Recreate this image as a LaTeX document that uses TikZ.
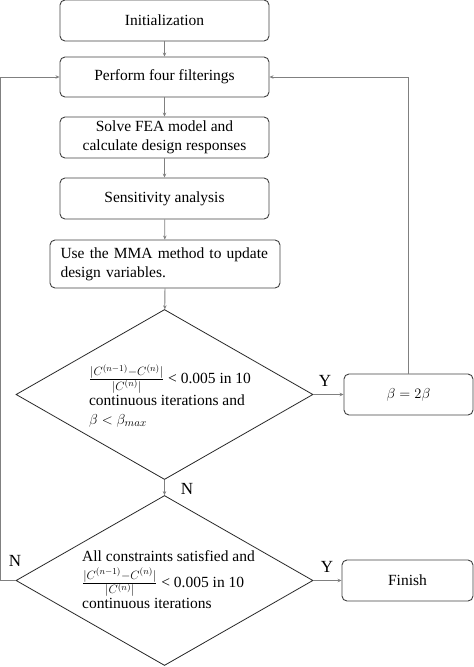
\documentclass[tikz,border=0pt]{standalone}
\usepackage{fontspec}
\setmainfont{Liberation Serif}
\usetikzlibrary{arrows.meta,shapes.geometric}
\newcommand{\cfrac}{{\fontsize{18.5}{20}\selectfont\ensuremath{\frac{|C^{(n-1)}-C^{(n)}|}{|C^{(n)}|}}}}
\begin{document}
\begin{tikzpicture}[x=1pt,y=-1pt,
  box/.style={draw=black!75,line width=0.9pt,rounded corners=5pt,inner sep=0pt,font=\fontsize{15.5}{19}\selectfont},
  dia/.style={draw=black!85,line width=0.8pt,shape=diamond,inner sep=0pt,minimum width=297pt,minimum height=170pt},
  txt/.style={font=\fontsize{15.5}{19}\selectfont,align=left,inner sep=0pt},
  conn/.style={draw=black!50,line width=0.8pt,-{Stealth[length=4pt,width=3.5pt]}},
  lbl/.style={font=\fontsize{17}{20}\selectfont,inner sep=0pt}]
\useasboundingbox (0,0) rectangle (474,667);
\node[box,minimum width=209pt,minimum height=41pt] (init) at (164.5,20.5) {Initialization};
\node[box,minimum width=209pt,minimum height=40pt] (perf) at (164.5,77) {Perform four filterings};
\node[box,minimum width=209pt,minimum height=41pt,align=center] (solve) at (164.5,137.5) {Solve FEA model and\\calculate design responses};
\node[box,minimum width=209pt,minimum height=41pt] (sens) at (164.5,198.5) {Sensitivity analysis};
\node[box,minimum width=230pt,minimum height=48pt,align=left,text width=209pt] (mma) at (165,264) {Use the MMA method to update\\design variables.};
\node[dia] (d1) at (164.5,394.5) {};
\node[txt] (t1) at (170,396) {\cfrac{} < 0.005 in 10\\[1pt]continuous iterations and\\$\beta<\beta_{max}$};
\node[box,minimum width=129pt,minimum height=41pt] (beta) at (408.5,394.5) {$\beta=2\beta$};
\node[dia] (d2) at (164.5,580.5) {};
\node[txt] (t2) at (168.5,580) {All constraints satisfied and\\[5pt]\cfrac{} < 0.005 in 10\\[1pt]continuous iterations};
\node[box,minimum width=131pt,minimum height=41pt] (fin) at (407.5,580.5) {Finish};
\coordinate (lft) at (0.5,580.5);
\draw[conn] (init) -- (perf);
\draw[conn] (perf) -- (solve);
\draw[conn] (solve) -- (sens);
\draw[conn] (sens) -- (mma);
\draw[conn] (mma) -- (d1);
\draw[conn] (d1) -- (d2);
\draw[conn] (d1) -- (beta);
\draw[conn] (d2) -- (fin);
\draw[conn] (beta.north) |- (perf.east);
\draw[conn] (d2.west) -- (lft) |- (perf.west);
\node[lbl] (y1) at (325,381) {Y};
\node[lbl] (n1) at (187,489) {N};
\node[lbl] (y2) at (327,567) {Y};
\node[lbl] (n2) at (15,561) {N};
\end{tikzpicture}
\end{document}
